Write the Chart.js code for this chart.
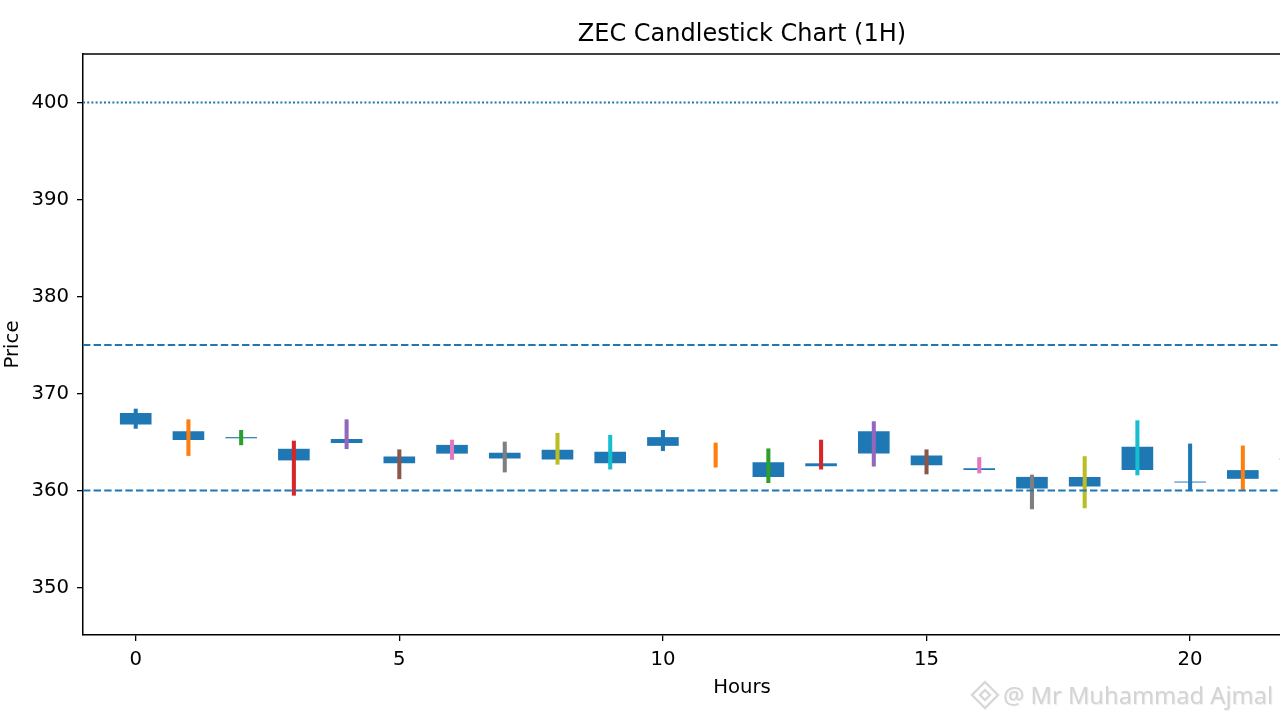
<!DOCTYPE html>
<html>
<head>
<meta charset="utf-8">
<title>ZEC Candlestick Chart (1H)</title>
<script src="https://cdn.jsdelivr.net/npm/chart.js@4/dist/chart.umd.min.js"></script>
<style>
    html, body { margin: 0; padding: 0; background: white; overflow: hidden; width: 1280px; height: 720px; }
    #grafico { position: absolute; left: 0; top: 0; }
    #marca { position: absolute; left: 970px; top: 678px; width: 310px; height: 34px; color: #d4d4d4;
             font-family: "Noto Sans", sans-serif; font-size: 23.7px; line-height: 34px; white-space: nowrap; }
    #marca svg { position: absolute; left: 0; top: 2px; }
    #marca span { position: absolute; left: 33px; top: 0; text-shadow: 1px 1px 1px #ececec; }
</style>
</head>
<body>
<canvas id="grafico" width="1484" height="720"></canvas>
<div id="marca">
    <svg width="30" height="30" viewBox="0 0 30 30" fill="none" stroke="#d8d8d8" stroke-width="2.4">
        <path d="M15 2 L28 15 L15 28 L2 15 Z"/>
        <path d="M15 10 L20 15 L15 20 L10 15 Z"/>
    </svg>
    <span>@ Mr Muhammad Ajmal</span>
</div>
<script>
const horas = [0, 1, 2, 3, 4, 5, 6, 7, 8, 9, 10, 11, 12, 13, 14, 15, 16, 17, 18, 19, 20, 21, 22];
const corpoTopo = [368.0, 366.1, 365.5, 364.3, 365.3, 363.5, 364.7, 363.9, 364.2, 364.0, 365.5, 363.6, 362.9, 362.8, 366.1, 363.6, 362.3, 361.4, 361.4, 364.5, 360.92, 362.1, 363.3];
const corpoBase = [366.8, 365.2, 365.38, 363.1, 364.9, 362.8, 363.8, 363.3, 363.2, 362.8, 364.6, 363.6, 361.4, 362.5, 363.8, 362.6, 362.12, 360.2, 360.4, 362.1, 360.82, 361.2, 363.15];
const pavioAlto = [368.4, 367.3, 366.2, 365.1, 367.3, 364.2, 365.2, 365.0, 365.9, 365.7, 366.2, 364.9, 364.3, 365.2, 367.1, 364.2, 363.4, 361.6, 363.5, 367.2, 364.8, 364.6, 363.5];
const pavioBaixo = [366.4, 363.6, 364.7, 359.5, 364.3, 361.2, 363.2, 361.9, 362.7, 362.2, 364.1, 362.4, 360.8, 362.2, 362.5, 361.7, 361.8, 358.1, 358.2, 361.6, 360.0, 360.1, 363.0];
const niveisTracejados = [375, 360];
const nivelPontilhado = [400];

const ticksPreco = [350, 360, 370, 380, 390, 400];
const ticksHoras = [0, 5, 10, 15, 20];

const xMin = -1;
const xMax = 24;
const yMin = 345.1;
const yMax = 405;

const azul = '#1f77b4';
const cores = ['#1f77b4', '#ff7f0e', '#2ca02c', '#d62728', '#9467bd', '#8c564b', '#e377c2', '#7f7f7f', '#bcbd22', '#17becf'];
const fonte = '"DejaVu Sans", sans-serif';

function linhaNivel(valor, tracejado, largura) {
    return {
        type: 'line',
        data: [{ x: xMin, y: valor }, { x: xMax, y: valor }],
        borderColor: azul,
        borderWidth: largura,
        borderDash: tracejado,
        pointRadius: 0,
        order: 0
    };
}

// desenha a borda de cima do quadro do grafico
const bordaTopo = {
    id: 'bordaTopo',
    afterDatasetsDraw(chart) {
        const area = chart.chartArea;
        const ctx = chart.ctx;
        ctx.save();
        ctx.strokeStyle = '#000';
        ctx.lineWidth = 1.5;
        ctx.beginPath();
        ctx.moveTo(area.left, area.top);
        ctx.lineTo(area.right, area.top);
        ctx.stroke();
        ctx.restore();
    }
};

const meugrafico = new Chart(document.getElementById('grafico').getContext('2d'), {
    type: 'bar',
    data: {
        datasets: [
            ...niveisTracejados.map(v => linhaNivel(v, [7.4, 3.2], 1.9)),
            ...nivelPontilhado.map(v => linhaNivel(v, [2, 2.2], 1.9)),
            {
                label: 'pavio',
                data: horas.map((h, i) => ({ x: h, y: [pavioBaixo[i], pavioAlto[i]] })),
                backgroundColor: horas.map(h => cores[h % 10]),
                barThickness: 3.4,
                grouped: false,
                order: 1
            },
            {
                label: 'corpo',
                data: horas.map((h, i) => ({ x: h, y: [corpoBase[i], corpoTopo[i]] })),
                backgroundColor: azul,
                barPercentage: 0.6,
                categoryPercentage: 1,
                grouped: false,
                order: 2
            }
        ]
    },
    options: {
        responsive: false,
        animation: false,
        devicePixelRatio: 1,
        plugins: {
            legend: { display: false },
            tooltip: { enabled: false },
            title: {
                display: true,
                text: 'ZEC Candlestick Chart (1H)',
                color: '#000',
                font: { family: fonte, size: 24, weight: 'normal' },
                padding: { top: 20, bottom: 5.2 }
            }
        },
        scales: {
            x: {
                type: 'linear',
                offset: false,
                min: xMin,
                max: xMax,
                afterFit(escala) { escala.height = 85; },
                afterBuildTicks(escala) { escala.ticks = ticksHoras.map(v => ({ value: v })); },
                border: { color: '#000', width: 1.5 },
                grid: { offset: false, drawOnChartArea: false, color: '#000', tickLength: 6, lineWidth: 1.3 },
                ticks: {
                    color: '#000', padding: 7, maxRotation: 0, autoSkip: false,
                    font: { family: fonte, size: 19.7 }
                },
                title: {
                    display: true, text: 'Hours', color: '#000',
                    font: { family: fonte, size: 19.7 },
                    padding: { top: 0, bottom: 20.5 }
                }
            },
            y: {
                min: yMin,
                max: yMax,
                afterFit(escala) { escala.width = 83; },
                afterBuildTicks(escala) { escala.ticks = ticksPreco.map(v => ({ value: v })); },
                border: { color: '#000', width: 1.5 },
                grid: { drawOnChartArea: false, color: '#000', tickLength: 6, lineWidth: 1.3 },
                ticks: {
                    color: '#000', padding: 8, autoSkip: false,
                    font: { family: fonte, size: 19.7 }
                },
                title: {
                    display: true, text: 'Price', color: '#000',
                    font: { family: fonte, size: 19.7 },
                    padding: { top: 1.5, bottom: 1 }
                }
            },
            // eixo vazio so para reservar a margem direita (fora da foto) sem deslocar o titulo
            margemDireita: {
                position: 'right',
                afterFit(escala) { escala.width = 83; },
                border: { display: false },
                grid: { display: false },
                ticks: { display: false }
            }
        }
    },
    plugins: [bordaTopo]
});
</script>
</body>
</html>
